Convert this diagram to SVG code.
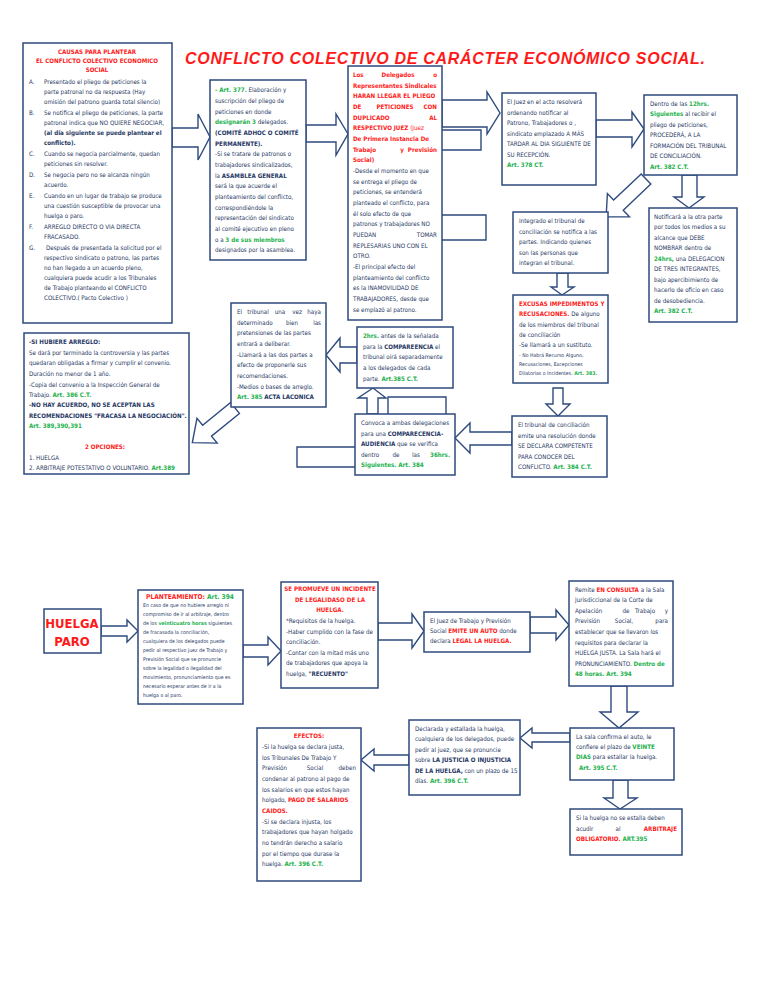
<svg xmlns="http://www.w3.org/2000/svg" width="768" height="1006" viewBox="0 0 768 1006">
<style>
.bx{fill:#fff;stroke:#2e4a7e;stroke-width:1.5}
.ar{fill:#fff;stroke:#2e4a7e;stroke-width:1.4;stroke-linejoin:miter}
.ln{fill:none;stroke:#2e4a7e;stroke-width:1.4}
text{font-family:"DejaVu Sans Condensed","Liberation Sans Narrow","Liberation Sans",sans-serif;fill:#1f3864;font-size:6.2px}
.r{fill:#ff1a1a;font-weight:bold}
.g{fill:#22b14c;font-weight:bold}
.k{font-weight:bold}
.s{font-size:5.2px}
.c{text-anchor:middle}
.e{text-anchor:end}
</style>
<rect width="768" height="1006" fill="#fff"/>
<text x="185" y="64" textLength="520" style="font-family:'Liberation Sans',sans-serif;font-size:16px;font-weight:bold;font-style:italic;fill:#ff1a1a">CONFLICTO COLECTIVO DE CARÁCTER ECONÓMICO SOCIAL.</text>

<g id="connectors">
<polygon class="ar" points="172,128 198,128 198,114 210,137 198,160 198,147 172,147"/>
<polygon class="ar" points="306,125 336,125 336,114 348,134 336,155 336,142 306,142"/>
<polygon class="ar" points="442,100 487,100 487,92 500,113 487,134 487,127 442,127"/>
<polyline class="ln" points="442,130 481,130 481,150 442,150"/>
<polyline class="ln" points="442,215 486,215 486,240 442,240"/>
<polygon class="ar" points="596,120 632,120 632,112 644,129 632,147 632,137 596,137"/>
<polygon class="ar" points="682,175 697,175 697,197 704,197 689,208 674,197 682,197"/>
<polygon class="ar" transform="translate(646,179) rotate(136.5)" points="0,-7 38,-7 38,-16 55,0 38,16 38,7 0,7"/>
<polygon class="ar" points="557,273 568,273 568,287 574,287 562,295 551,287 557,287"/>
<polygon class="ar" points="553,388 563,388 563,404 570,404 558,416 546,404 553,404"/>
<polygon class="ar" points="512,432 470,432 470,423 455,438 470,453 470,445 512,445"/>
<polygon class="ar" points="367,414 367,398 358,398 373,388 386,398 378,398 378,414"/>
<polyline class="ln" points="388,414 388,397 446,397 446,414"/>
<polygon class="ar" points="357,347 340,347 340,338 326,355 340,372 340,363 357,363"/>
<polyline class="ln" points="355,447 297,447 297,467 355,467"/>
<polygon class="ar" transform="translate(235,408) rotate(140.9)" points="0,-7 36,-7 36,-16 55,0 36,16 36,7 0,7"/>

<polygon class="ar" points="101,626 127,626 127,620 138,631 127,642 127,636 101,636"/>
<polygon class="ar" points="243,645 268,645 268,637 281,651 268,665 268,657 243,657"/>
<polygon class="ar" points="378,623 412,623 412,614 424,631 412,648 412,640 378,640"/>
<polygon class="ar" points="530,617 556,617 556,610 569,625 556,640 556,633 530,633"/>
<polygon class="ar" points="611,686 627,686 627,712 638,712 619,728 600,712 611,712"/>
<polygon class="ar" points="613,780 628,780 628,798 637,798 620,809 604,798 613,798"/>
<polygon class="ar" points="570,733 532,733 532,728 520,738 532,748 532,742 570,742"/>
<polygon class="ar" points="409,755 374,755 374,749 361,760 374,771 374,765 409,765"/>
</g>

<g id="causas">
<rect class="bx" x="23" y="43" width="149" height="280"/>
<text class="r c" x="97" y="54">CAUSAS PARA PLANTEAR</text>
<text class="r c" x="97" y="63">EL CONFLICTO COLECTIVO ECONOMICO</text>
<text class="r c" x="97" y="72">SOCIAL</text>
<text x="29" y="84">A.</text><text x="44" y="84">Presentado el pliego de peticiones la</text>
<text x="44" y="94">parte patronal no da respuesta (Hay</text>
<text x="44" y="104">omisión del patrono guarda total silencio)</text>
<text x="29" y="115">B.</text><text x="44" y="115">Se notifica el pliego de peticiones, la parte</text>
<text x="44" y="125">patronal indica que NO QUIERE NEGOCIAR,</text>
<text class="k" x="44" y="135">(al día siguiente se puede plantear el</text>
<text class="k" x="44" y="145">conflicto).</text>
<text x="29" y="156">C.</text><text x="44" y="156">Cuando se negocia parcialmente, quedan</text>
<text x="44" y="166">peticiones sin resolver.</text>
<text x="29" y="177">D.</text><text x="44" y="177">Se negocia pero no se alcanza ningún</text>
<text x="44" y="187">acuerdo.</text>
<text x="29" y="198">E.</text><text x="44" y="198">Cuando en un lugar de trabajo se produce</text>
<text x="44" y="208">una cuestión susceptible de provocar una</text>
<text x="44" y="218">huelga o paro.</text>
<text x="29" y="229">F.</text><text x="44" y="229">ARREGLO DIRECTO O VIA DIRECTA</text>
<text x="44" y="239">FRACASADO.</text>
<text x="29" y="250">G.</text><text x="46" y="250">Después de presentada la solicitud por el</text>
<text x="44" y="260">respectivo sindicato o patrono, las partes</text>
<text x="44" y="270">no han llegado a un acuerdo pleno,</text>
<text x="44" y="280">cualquiera puede acudir a los  Tribunales</text>
<text x="44" y="290">de Trabajo planteando el CONFLICTO</text>
<text x="44" y="300">COLECTIVO.( Pacto Colectivo )</text>
</g>

<g id="art377">
<rect class="bx" x="210" y="80" width="96" height="180"/>
<text x="215" y="92"><tspan class="g">- Art. 377.</tspan> Elaboración y</text>
<text x="215" y="103">suscripción del pliego de</text>
<text x="215" y="114">peticiones en donde</text>
<text x="215" y="124"><tspan class="g">designarán 3</tspan> delegados.</text>
<text class="k" x="215" y="135">(COMITÉ ADHOC O COMITÉ</text>
<text class="k" x="215" y="146">PERMANENTE).</text>
<text x="215" y="156">-Si se tratare de patronos o</text>
<text x="215" y="167">trabajadores sindicalizados,</text>
<text x="215" y="178">la <tspan class="k">ASAMBLEA GENERAL</tspan></text>
<text x="215" y="188">será la que acuerde el</text>
<text x="215" y="199">planteamiento del conflicto,</text>
<text x="215" y="210">correspondiéndole la</text>
<text x="215" y="220">representación del sindicato</text>
<text x="215" y="231">al comité ejecutivo en pleno</text>
<text x="215" y="242">o a <tspan class="g">3 de sus miembros</tspan></text>
<text x="215" y="252">designados por la asamblea.</text>
</g>

<g id="delegados">
<rect class="bx" x="348" y="66" width="94" height="254"/>
<text class="r" x="353" y="77">Los</text><text class="r c" x="398" y="77">Delegados</text><text class="r e" x="437" y="77">o</text>
<text class="r" x="353" y="88">Representantes Sindicales</text>
<text class="r" x="353" y="98">HARAN LLEGAR EL PLIEGO</text>
<text class="r" x="353" y="109">DE</text><text class="r c" x="395" y="109">PETICIONES</text><text class="r e" x="437" y="109">CON</text>
<text class="r" x="353" y="120">DUPLICADO</text><text class="r e" x="437" y="120">AL</text>
<text class="r" x="353" y="130">RESPECTIVO JUEZ <tspan font-weight="normal">(Juez</tspan></text>
<text class="r" x="353" y="141">De Primera Instancia De</text>
<text class="r" x="353" y="152">Trabajo</text><text class="r c" x="402" y="152">y</text><text class="r e" x="437" y="152">Previsión</text>
<text class="r" x="353" y="162">Social)</text>
<text x="353" y="173">-Desde el momento en que</text>
<text x="353" y="184">se entrega el pliego de</text>
<text x="353" y="194">peticiones, se entenderá</text>
<text x="353" y="205">planteado el conflicto, para</text>
<text x="353" y="216">él solo efecto de que</text>
<text x="353" y="226">patronos y trabajadores NO</text>
<text x="353" y="237">PUEDAN</text><text class="e" x="437" y="237">TOMAR</text>
<text x="353" y="248">REPLESARIAS UNO CON EL</text>
<text x="353" y="258">OTRO.</text>
<text x="353" y="269">-El principal efecto del</text>
<text x="353" y="280">planteamiento del conflicto</text>
<text x="353" y="290">es la INAMOVILIDAD DE</text>
<text x="353" y="301">TRABAJADORES, desde que</text>
<text x="353" y="312">se emplazó al patrono.</text>
</g>

<g id="juez">
<rect class="bx" x="502" y="93" width="94" height="92"/>
<text x="507" y="104">El Juez en el acto resolverá</text>
<text x="507" y="115">ordenando notificar al</text>
<text x="507" y="125">Patrono, Trabajadores o ,</text>
<text x="507" y="136">sindicato emplazado A MÁS</text>
<text x="507" y="146">TARDAR AL DIA SIGUIENTE DE</text>
<text x="507" y="157">SU RECEPCIÓN.</text>
<text class="g" x="507" y="167">Art. 378 CT.</text>
</g>

<g id="doce">
<rect class="bx" x="644" y="95" width="93" height="80"/>
<text x="650" y="106">Dentro de las <tspan class="g">12hrs.</tspan></text>
<text x="650" y="116"><tspan class="g">Siguientes</tspan> al recibir el</text>
<text x="650" y="127">pliego de peticiones,</text>
<text x="650" y="137">PROCEDERÁ, A LA</text>
<text x="650" y="148">FORMACIÓN DEL TRIBUNAL</text>
<text x="650" y="158">DE CONCILIACIÓN.</text>
<text class="g" x="650" y="169">Art. 382 C.T.</text>
</g>

<g id="notificara">
<rect class="bx" x="649" y="208" width="88" height="114"/>
<text x="654" y="219">Notificará a la otra parte</text>
<text x="654" y="229">por todos los medios a su</text>
<text x="654" y="240">alcance que DEBE</text>
<text x="654" y="250">NOMBRAR dentro de</text>
<text x="654" y="261"><tspan class="g">24hrs,</tspan> una DELEGACION</text>
<text x="654" y="271">DE TRES INTEGRANTES,</text>
<text x="654" y="282">bajo apercibimiento de</text>
<text x="654" y="292">hacerlo de oficio en caso</text>
<text x="654" y="303">de desobediencia.</text>
<text class="g" x="654" y="313">Art. 382 C.T.</text>
</g>

<g id="integrado">
<rect class="bx" x="513" y="212" width="95" height="61"/>
<text x="519" y="223">Integrado el tribunal de</text>
<text x="519" y="234">conciliación se notifica a las</text>
<text x="519" y="244">partes. Indicando quienes</text>
<text x="519" y="255">son las personas que</text>
<text x="519" y="265">integran el tribunal.</text>
</g>

<g id="excusas">
<rect class="bx" x="513" y="295" width="95" height="88"/>
<text x="519" y="306"><tspan class="r">EXCUSAS IMPEDIMENTOS Y</tspan></text>
<text x="519" y="316"><tspan class="r">RECUSACIONES.</tspan> De alguno</text>
<text x="519" y="327">de los miembros del tribunal</text>
<text x="519" y="337">de conciliación</text>
<text x="519" y="347">-Se llamará a un sustituto.</text>
<text class="s" x="519" y="357">- No Habrá Recurso Alguno,</text>
<text class="s" x="519" y="366">Recusaciones, Excepciones</text>
<text class="s" x="519" y="375">Dilatorias o Incidentes. <tspan class="g">Art. 383.</tspan></text>
</g>

<g id="deliberar">
<rect class="bx" x="231" y="303" width="95" height="104"/>
<text x="237" y="314">El</text><text class="c" x="258" y="314">tribunal</text><text class="c" x="280" y="314">una</text><text class="c" x="297" y="314">vez</text><text class="e" x="321" y="314">haya</text>
<text x="237" y="325">determinado</text><text class="c" x="292" y="325">bien</text><text class="e" x="321" y="325">las</text>
<text x="237" y="335">pretensiones de las partes</text>
<text x="237" y="346">entrará a deliberar.</text>
<text x="237" y="357">-Llamará a las dos partes a</text>
<text x="237" y="367">efecto de proponerle sus</text>
<text x="237" y="378">recomendaciones.</text>
<text x="237" y="389">-Medios o bases de arreglo.</text>
<text x="237" y="399"><tspan class="g">Art. 385</tspan> <tspan class="k">ACTA LACONICA</tspan></text>
</g>

<g id="arreglo">
<rect class="bx" x="24" y="333" width="165" height="141"/>
<text class="k" x="29" y="344">-SI HUBIERE ARREGLO:</text>
<text x="29" y="355">Se dará por terminado la controversia y las partes</text>
<text x="29" y="365">quedaran obligadas  a firmar y cumplir el convenio.</text>
<text x="29" y="376">Duración no menor de 1 año.</text>
<text x="29" y="387">-Copia del convenio a la Inspección General de</text>
<text x="29" y="397">Trabajo. <tspan class="g">Art. 386 C.T.</tspan></text>
<text class="k" x="29" y="407">-NO HAY ACUERDO, NO SE ACEPTAN LAS</text>
<text class="k" x="29" y="418">RECOMENDACIONES  "FRACASA LA NEGOCIACIÓN".</text>
<text class="g" x="29" y="428">Art. 389,390,391</text>
<text class="r c" x="105" y="449">2 OPCIONES:</text>
<text x="29" y="460">1. HUELGA</text>
<text x="29" y="470">2. ARBITRAJE POTESTATIVO O VOLUNTARIO. <tspan class="g">Art.389</tspan></text>
</g>

<g id="doshrs">
<rect class="bx" x="357" y="327" width="96" height="61"/>
<text x="363" y="338"><tspan class="g">2hrs.</tspan> antes de la señalada</text>
<text x="363" y="349">para la <tspan class="k">COMPAREENCIA</tspan> el</text>
<text x="363" y="359">tribunal oirá separadamente</text>
<text x="363" y="370">a los delegados de cada</text>
<text x="363" y="381">parte. <tspan class="g">Art.385 C.T.</tspan></text>
</g>

<g id="convoca">
<rect class="bx" x="355" y="414" width="100" height="61"/>
<text x="361" y="425">Convoca a ambas delegaciones</text>
<text x="361" y="436">para una <tspan class="k">COMPARECENCIA-</tspan></text>
<text x="361" y="446"><tspan class="k">AUDIENCIA</tspan> que se verifica</text>
<text x="361" y="457">dentro</text><text class="c" x="396" y="457">de</text><text class="c" x="416" y="457">las</text><text class="g e" x="450" y="457">36hrs.</text>
<text x="361" y="467"><tspan class="g">Siguientes. Art. 384</tspan></text>
</g>

<g id="competente">
<rect class="bx" x="512" y="416" width="95" height="61"/>
<text x="518" y="427">El tribunal de  conciliación</text>
<text x="518" y="438">emite una resolución donde</text>
<text x="518" y="448">SE DECLARA COMPETENTE</text>
<text x="518" y="459">PARA CONOCER DEL</text>
<text x="518" y="469">CONFLICTO. <tspan class="g">Art. 384 C.T.</tspan></text>
</g>

<g id="huelga">
<rect class="bx" x="44" y="609" width="57" height="44"/>
<text class="r c" x="72" y="628" style="font-size:13px">HUELGA</text>
<text class="r c" x="72" y="646" style="font-size:13px">PARO</text>
</g>

<g id="planteamiento">
<rect class="bx" x="138" y="590" width="105" height="114"/>
<text class="c" x="190" y="599" style="font-size:6.6px"><tspan class="r">PLANTEAMIENTO:</tspan> <tspan class="g">Art. 394</tspan></text>
<text class="s" x="143" y="607">En caso de que no hubiere arreglo ni</text>
<text class="s" x="143" y="616">compromiso de ir al arbitraje, dentro</text>
<text class="s" x="143" y="625">de los <tspan class="g">veinticuatro horas</tspan> siguientes</text>
<text class="s" x="143" y="634">de fracasada la conciliación,</text>
<text class="s" x="143" y="643">cualquiera de los delegados puede</text>
<text class="s" x="143" y="652">pedir al respectivo juez de Trabajo y</text>
<text class="s" x="143" y="661">Previsión Social que se pronuncie</text>
<text class="s" x="143" y="670">sobre la legalidad o ilegalidad del</text>
<text class="s" x="143" y="679">movimiento, pronunciamiento que es</text>
<text class="s" x="143" y="688">necesario esperar antes de ir a la</text>
<text class="s" x="143" y="697">huelga o al paro.</text>
</g>

<g id="promueve">
<rect class="bx" x="281" y="582" width="97" height="106"/>
<text class="r c" x="330" y="591">SE PROMUEVE UN INCIDENTE</text>
<text class="r c" x="330" y="602">DE LEGALIDASO DE LA</text>
<text class="r c" x="330" y="612">HUELGA.</text>
<text x="286" y="623">*Requisitos de la huelga.</text>
<text x="286" y="634">-Haber cumplido con la fase de</text>
<text x="286" y="644">conciliación.</text>
<text x="286" y="655">-Contar con la mitad más uno</text>
<text x="286" y="665">de trabajadores que apoya la</text>
<text x="286" y="676">huelga, <tspan class="k">"RECUENTO"</tspan></text>
</g>

<g id="emite">
<rect class="bx" x="424" y="612" width="106" height="40"/>
<text x="430" y="623">El Juez de Trabajo y Previsión</text>
<text x="430" y="633">Social <tspan class="r">EMITE UN AUTO</tspan> donde</text>
<text x="430" y="643">declara <tspan class="r">LEGAL LA HUELGA.</tspan></text>
</g>

<g id="remite">
<rect class="bx" x="569" y="581" width="104" height="105"/>
<text x="575" y="592">Remite <tspan class="r">EN CONSULTA</tspan> a la Sala</text>
<text x="575" y="602">Jurisdiccional de la Corte de</text>
<text x="575" y="613">Apelación</text><text class="c" x="626" y="613">de</text><text class="c" x="645" y="613">Trabajo</text><text class="e" x="668" y="613">y</text>
<text x="575" y="623">Previsión</text><text class="c" x="624" y="623">Social,</text><text class="e" x="668" y="623">para</text>
<text x="575" y="634">establecer que se llevaron los</text>
<text x="575" y="645">requisitos para declarar la</text>
<text x="575" y="655">HUELGA JUSTA. La Sala hará el</text>
<text x="575" y="666">PRONUNCIAMIENTO. <tspan class="g">Dentro de</tspan></text>
<text class="g" x="575" y="676">48 horas. Art. 394</text>
</g>

<g id="efectos">
<rect class="bx" x="257" y="728" width="104" height="153"/>
<text class="r c" x="309" y="738">EFECTOS:</text>
<text x="262" y="749">-Si la huelga se declara justa,</text>
<text x="262" y="760">los Tribunales De Trabajo Y</text>
<text x="262" y="770">Previsión</text><text class="c" x="315" y="770">Social</text><text class="e" x="356" y="770">deben</text>
<text x="262" y="781">condenar al patrono al pago de</text>
<text x="262" y="792">los salarios en que estos hayan</text>
<text x="262" y="802">holgado, <tspan class="r">PAGO DE SALARIOS</tspan></text>
<text class="r" x="262" y="813">CAIDOS.</text>
<text x="262" y="824">-Si se declara injusta, los</text>
<text x="262" y="834">trabajadores que hayan holgado</text>
<text x="262" y="845">no tendrán derecho a salario</text>
<text x="262" y="856">por el tiempo que durase la</text>
<text x="262" y="866">huelga. <tspan class="g">Art. 396 C.T.</tspan></text>
</g>

<g id="declarada">
<rect class="bx" x="409" y="720" width="111" height="75"/>
<text x="415" y="731">Declarada y estallada la huelga,</text>
<text x="415" y="741">cualquiera de los delegados, puede</text>
<text x="415" y="752">pedir al juez, que se pronuncie</text>
<text x="415" y="762">sobre <tspan class="k">LA JUSTICIA O INJUSTICIA</tspan></text>
<text x="415" y="773"><tspan class="k">DE LA HUELGA,</tspan> con un plazo de 15</text>
<text x="415" y="783">días. <tspan class="g">Art. 396 C.T.</tspan></text>
</g>

<g id="sala">
<rect class="bx" x="570" y="728" width="104" height="52"/>
<text x="576" y="739">La sala confirma el auto, le</text>
<text x="576" y="749">confiere el plazo de <tspan class="g">VEINTE</tspan></text>
<text x="576" y="759"><tspan class="g">DIAS</tspan> para estallar la huelga.</text>
<text class="g" x="579" y="770">Art. 395 C.T.</text>
</g>

<g id="arbitraje">
<rect class="bx" x="570" y="809" width="112" height="46"/>
<text x="576" y="820">Si la huelga no se estalla deben</text>
<text x="576" y="831">acudir</text><text class="c" x="618" y="831">al</text><text class="r e" x="677" y="831">ARBITRAJE</text>
<text x="576" y="841"><tspan class="r">OBLIGATORIO.</tspan> <tspan class="g">ART.395</tspan></text>
</g>
</svg>
